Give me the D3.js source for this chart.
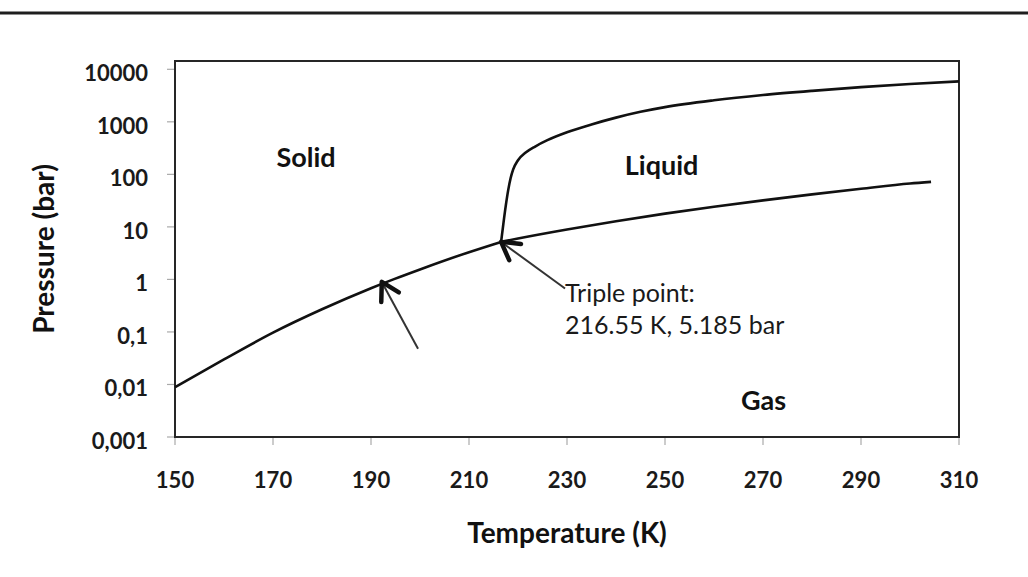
<!DOCTYPE html>
<html>
<head>
<meta charset="utf-8">
<script src="https://cdn.jsdelivr.net/npm/d3@7"></script>
<style>
  body { margin: 0; background: #fff; }
  svg { display: block; font-family: Lato, "Open Sans", sans-serif; }
</style>
</head>
<body>
<script>
// axis ticks
const tempTicks = [150, 170, 190, 210, 230, 250, 270, 290, 310];
const pressTicks = [0.001, 0.01, 0.1, 1, 10, 100, 1000, 10000];
const pressLabels = ["0,001", "0,01", "0,1", "1", "10", "100", "1000", "10000"];

// phase boundaries (T in K, P in bar)
const sublimationT = [150, 160, 170, 180, 190, 194.7, 200, 210, 216.55];
const sublimationP = [0.0089, 0.030, 0.097, 0.27, 0.68, 1.013, 1.55, 3.3, 5.185];
const vaporT = [216.55, 220, 230, 240, 250, 260, 270, 280, 290, 300, 304.3];
const vaporP = [5.185, 6.0, 8.9, 12.8, 17.9, 24.2, 32.0, 41.6, 53.2, 67.1, 72];
const meltT = [216.55, 217, 217.5, 218, 218.5, 219, 220, 221.5, 223.5, 226, 230, 235, 240, 245, 250, 260, 270, 280, 290, 300, 310];
const meltP = [5.185, 11.2, 25.1, 50.1, 85.1, 123, 186, 257, 339, 447, 631, 891, 1202, 1549, 1905, 2570, 3236, 3890, 4571, 5248, 5888];

// region labels
const regionNames = ["Solid", "Liquid", "Gas"];
const regionT = [170.7, 241.8, 265.5];
const regionP = [139, 96, 0.0032];

// arrows: tail -> tip
const arrowTipT = [192.2, 216.55];
const arrowTipP = [0.895, 5.185];
const arrowTailT = [199.6, 229.6];
const arrowTailP = [0.048, 0.67];

const noteLines = ["Triple point:", "216.55 K, 5.185 bar"];
const noteT = 229.6, noteP = 0.372;

const W = 1028, H = 577;
const plotLeft = 175, plotRight = 959, plotTop = 61, plotBottom = 437;

const svg = d3.select("body").append("svg").attr("width", W).attr("height", H);

// rule at the top of the page
svg.append("line")
  .attr("x1", 0).attr("x2", W).attr("y1", 13).attr("y2", 13)
  .attr("stroke", "#1e1e1e").attr("stroke-width", 3);

const x = d3.scaleLinear().domain([150, 310]).range([plotLeft, plotRight]);
const y = d3.scaleLog().domain([0.001, 10000]).range([plotBottom, 69.3]);

// tick marks
svg.append("g").selectAll("line").data(tempTicks).enter().append("line")
  .attr("x1", d => x(d)).attr("x2", d => x(d))
  .attr("y1", plotBottom).attr("y2", plotBottom + 8)
  .attr("stroke", "#aaa").attr("stroke-width", 1.2);

svg.append("g").selectAll("line").data(pressTicks).enter().append("line")
  .attr("x1", plotLeft - 8).attr("x2", plotLeft)
  .attr("y1", d => y(d)).attr("y2", d => y(d))
  .attr("stroke", "#aaa").attr("stroke-width", 1.2);

// tick labels
svg.append("g").selectAll("text").data(tempTicks).enter().append("text")
  .attr("x", d => x(d)).attr("y", 488)
  .attr("text-anchor", "middle")
  .attr("font-size", "22px").attr("font-weight", "bold").attr("fill", "#1a1a1a")
  .text(d => d);

svg.append("g").selectAll("text").data(pressTicks).enter().append("text")
  .attr("x", 148).attr("y", d => y(d) + 12)
  .attr("text-anchor", "end")
  .attr("font-size", "22px").attr("font-weight", "bold").attr("fill", "#1a1a1a")
  .text((d, i) => pressLabels[i]);

// axis titles
svg.append("text")
  .attr("x", (plotLeft + plotRight) / 2).attr("y", 543)
  .attr("text-anchor", "middle")
  .attr("font-size", "28px").attr("font-weight", "bold").attr("fill", "#111")
  .text("Temperature (K)");

svg.append("text")
  .attr("transform", `translate(54,${(plotTop + plotBottom) / 2}) rotate(-90)`)
  .attr("text-anchor", "middle")
  .attr("font-size", "28px").attr("font-weight", "bold").attr("fill", "#111")
  .text("Pressure (bar)");

// plot frame
svg.append("rect")
  .attr("x", plotLeft).attr("y", plotTop)
  .attr("width", plotRight - plotLeft).attr("height", plotBottom - plotTop)
  .attr("fill", "none").attr("stroke", "#262626").attr("stroke-width", 2);

const line = d3.line()
  .x(d => x(d[0])).y(d => y(d[1]))
  .curve(d3.curveMonotoneX);

const curves = [
  d3.zip(sublimationT, sublimationP),
  d3.zip(vaporT, vaporP),
  d3.zip(meltT, meltP)
];

svg.append("g").selectAll("path").data(curves).enter().append("path")
  .attr("d", line)
  .attr("fill", "none").attr("stroke", "#111").attr("stroke-width", 2.6)
  .attr("stroke-linejoin", "round");

// region labels
svg.append("g").selectAll("text").data(regionNames).enter().append("text")
  .attr("x", (d, i) => x(regionT[i])).attr("y", (d, i) => y(regionP[i]))
  .attr("font-size", "27px").attr("font-weight", "bold").attr("fill", "#111")
  .text(d => d);

// arrows
arrowTipT.forEach((t, i) => {
  let tx = x(t), ty = y(arrowTipP[i]);
  let sx = x(arrowTailT[i]), sy = y(arrowTailP[i]);
  let ang = Math.atan2(sy - ty, sx - tx);
  svg.append("line")
    .attr("x1", sx).attr("y1", sy).attr("x2", tx).attr("y2", ty)
    .attr("stroke", "#333").attr("stroke-width", 2);
  let len = 20, spread = Math.PI / 6;
  let p1 = [tx + len * Math.cos(ang - spread), ty + len * Math.sin(ang - spread)];
  let p2 = [tx + len * Math.cos(ang + spread), ty + len * Math.sin(ang + spread)];
  svg.append("path")
    .attr("d", `M${p1}L${tx},${ty}L${p2}`)
    .attr("fill", "none").attr("stroke", "#111").attr("stroke-width", 4.5)
    .attr("stroke-linecap", "round").attr("stroke-linejoin", "round");
});

// triple point note
svg.append("text")
  .attr("x", x(noteT)).attr("y", y(noteP))
  .attr("font-size", "25px").attr("fill", "#1a1a1a")
  .selectAll("tspan").data(noteLines).enter().append("tspan")
  .attr("x", x(noteT)).attr("dy", (d, i) => i == 0 ? 0 : 32)
  .text(d => d);
</script>
</body>
</html>
